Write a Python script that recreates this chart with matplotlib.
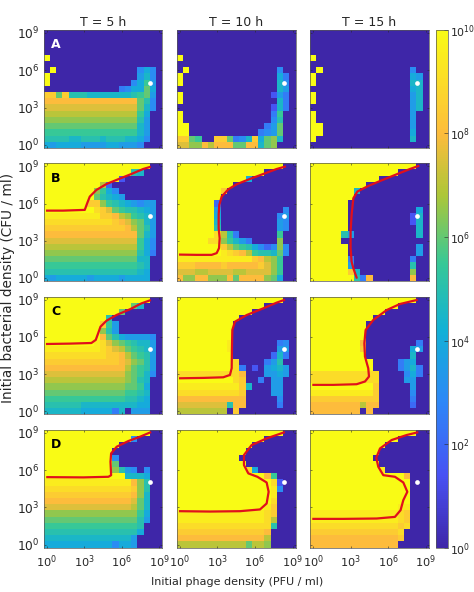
import numpy as np
import matplotlib
matplotlib.use("Agg")
import matplotlib.pyplot as plt
from matplotlib.colors import LinearSegmentedColormap, LogNorm

# cell values: one char per cell, int(c, 36) / 2 = log10(density), rows from 10^9 down to 10^0
Z = "0" * 19
A_5 = [Z, Z, Z, Z, "k" + "0" * 18, Z,
       "0k" + "0" * 13 + "6860", "k" + "0" * 14 + "7960", "k" + "0" * 13 + "68b70",
       "0" * 12 + "5688c80", "hhchaaa9999999abc70", "g" * 15 + "ca60", "f" * 15 + "c960",
       "e" * 15 + "b800", "d" * 15 + "a700", "c" * 15 + "9700", "b" * 15 + "9700",
       "aaaa99aaa9aaa99" + "8600", "878888777788777" + "6000"]
A_10 = [Z, Z, Z, Z, "k" + "0" * 18, Z,
        "0k" + "0" * 14 + "600", "k" + "0" * 15 + "850", "k" + "0" * 15 + "960",
        "0" * 16 + "970", "k" + "0" * 14 + "3750", "k" + "0" * 15 + "950",
        "0" * 15 + "3950", "k" + "0" * 14 + "5b00", "k" + "0" * 14 + "6a00",
        "kk" + "0" * 12 + "57c00", "kk" + "0" * 11 + "567c00",
        "hhcb00hhc569h8cd900", "ffddgegggccgg9cd000"]
A_15 = [Z, Z, Z, Z, "k" + "0" * 18, Z,
        "0k" + "0" * 14 + "600", "k" + "0" * 15 + "870", "k" + "0" * 15 + "990",
        "0" * 16 + "890", "k" + "0" * 15 + "790", "k" + "0" * 15 + "790",
        "0" * 16 + "790", "k" + "0" * 15 + "700", "k" + "0" * 15 + "700",
        "kk" + "0" * 14 + "700", "kk" + "0" * 14 + "800", "k" + "0" * 15 + "900", Z]

B_5 = ["k" * 17 + "00", "k" * 14 + "a9000", "k" * 12 + "3" + "0" * 6, "k" * 9 + "e4" + "0" * 8,
       "k" * 8 + "db86" + "0" * 7, "k" * 8 + "ca987" + "0" * 6, "k" * 7 + "hhdba9876770",
       "k" * 8 + "ihfcbaa9870", "j" * 9 + "hhgedba970", "i" * 11 + "hgfdc970",
       "h" * 13 + "geca70", "g" * 15 + "c970", "f" * 15 + "b860", "e" * 15 + "b860",
       "d" * 15 + "a850", "c" * 15 + "9900", "b" * 15 + "a900", "a" * 15 + "9800",
       "878888878888788" + "8800"]
B_10 = ["k" * 17 + "00", "k" * 14 + "0" * 5, "k" * 11 + "8" + "0" * 7, "k" * 9 + "0" * 10,
        "k" * 7 + "h" + "0" * 11, "k" * 7 + "0" * 12, "k" * 6 + "4" + "0" * 12,
        "k" * 6 + "7" + "0" * 10 + "60", "k" * 6 + "8" + "0" * 9 + "670",
        "k" * 6 + "9" + "0" * 9 + "760", "k" * 6 + "a" + "0" * 9 + "760",
        "k" * 6 + "iea5" + "0" * 6 + "b00", "k" * 5 + "iidb9750000d00",
        "k" * 7 + "hecba8646d60", "k" * 7 + "jihgebaa9c60", "j" * 12 + "hgedb00",
        "hhhgggghggggghfdb00", "fffeeffffeeffffdb00", "gddggdddgcggggdc800"]
B_15 = ["k" * 17 + "00", "k" * 14 + "0" * 5, "k" * 11 + "0" * 8, "k" * 9 + "0" * 10,
        "k" * 7 + "9" + "0" * 11, "k" * 7 + "0" * 12, "k" * 6 + "0" * 13,
        "k" * 6 + "0" * 11 + "80", "k" * 6 + "0" * 10 + "390", "k" * 6 + "0" * 10 + "390",
        "k" * 6 + "0" * 11 + "90", "k" * 5 + "a7" + "0" * 10 + "90", "k" * 5 + "0" * 14,
        "k" * 6 + "0" * 11 + "70", "k" * 6 + "0" * 11 + "70",
        "k" * 6 + "5" + "0" * 9 + "500", "k" * 6 + "7" + "0" * 9 + "a00",
        "k" * 6 + "h9" + "0" * 8 + "d00", "k" * 7 + "a5g" + "0" * 6 + "g00"]

C_5 = ["k" * 17 + "00", "k" * 14 + "c9000", "k" * 12 + "c" + "0" * 6, "k" * 10 + "a" + "0" * 8,
       "k" * 9 + "hb7" + "0" * 7, "k" * 9 + "da7" + "0" * 7, "k" * 9 + "gca8777760",
       "k" * 8 + "jifdcba9970", "j" * 9 + "ihfecba970", "i" * 10 + "hhgecba70",
       "h" * 11 + "hgfdca70", "g" * 13 + "ecba70", "f" * 13 + "dcb960", "e" * 13 + "dca900",
       "d" * 13 + "ccb800", "c" * 13 + "bba900", "b" * 13 + "aa9800",
       "a" * 6 + "9" * 7 + "998800", "9999998888859077700"]
C_10 = ["k" * 17 + "00", "k" * 14 + "0" * 5, "k" * 12 + "0" * 7, "k" * 10 + "0" * 9,
        "k" * 9 + "0" * 10, "k" * 9 + "0" * 10, "k" * 9 + "0" * 10,
        "k" * 8 + "j" + "0" * 7 + "560", "k" * 8 + "j" + "0" * 7 + "770",
        "k" * 9 + "0" * 6 + "4950", "k" * 9 + "i" + "0000" + "57a00",
        "k" * 9 + "i" + "5030" + "78970", "i" * 10 + "g" + "000" + "77870",
        "k" * 9 + "ih" + "00507700", "j" * 10 + "h9" + "000" + "7700",
        "i" * 10 + "h" + "0000" + "7700", "g" * 11 + "0" * 5 + "600",
        "f" * 8 + "agg" + "0" * 5 + "500", "e" * 8 + "0h0" + "0" * 8]
C_15 = ["k" * 17 + "00", "k" * 14 + "0" * 5, "k" * 12 + "0" * 7, "k" * 10 + "0" * 9,
        "k" * 9 + "0" * 10, "k" * 9 + "0" * 10, "k" * 9 + "0" * 10,
        "k" * 8 + "g" + "0" * 8 + "50", "k" * 8 + "h" + "0" * 7 + "870",
        "k" * 9 + "0" * 7 + "900", "k" * 10 + "0000" + "57800", "k" * 10 + "0000" + "57950",
        "i" * 11 + "0000" + "6850", "i" * 11 + "0000" + "7700", "k" * 10 + "h" + "0" * 5 + "700",
        "j" * 10 + "h" + "0" * 5 + "600", "h" * 11 + "0" * 5 + "500",
        "g" * 8 + "egg" + "0" * 5 + "400", "g" * 8 + "0g0" + "0" * 8]

D_5 = ["k" * 17 + "00", "k" * 14 + "60000", "k" * 12 + "0" * 7, "k" * 11 + "0" * 8,
       "k" * 11 + "6" + "0" * 7, "k" * 11 + "c" + "0" * 7, "k" * 11 + "da76060" + "0",
       "k" * 13 + "999800", "j" * 14 + "gda00", "i" * 14 + "hda00", "h" * 14 + "gd900",
       "g" * 14 + "fc900", "f" * 14 + "ec900", "d" * 15 + "b800", "c" * 15 + "a700",
       "b" * 15 + "a000", "a" * 15 + "8000", "9" * 14 + "70000", "8" * 11 + "6887" + "0000"]
D_10 = ["k" * 17 + "00", "k" * 14 + "0" * 5, "k" * 12 + "0" * 7, "k" * 11 + "0" * 8,
        "k" * 10 + "0" * 9, "k" * 11 + "0" * 8, "k" * 11 + "i8" + "0" * 6,
        "k" * 14 + "gb000", "k" * 15 + "i300", "k" * 15 + "j600", "k" * 15 + "j000",
        "k" * 15 + "i000", "k" * 14 + "jh000", "j" * 14 + "ih000", "j" * 14 + "ie000",
        "i" * 14 + "ia000", "h" * 14 + "g0000", "g" * 14 + "e0000", "e" * 11 + "ceed0000"]
D_15 = ["k" * 17 + "00", "k" * 14 + "0" * 5, "k" * 12 + "0" * 7, "k" * 11 + "0" * 8,
        "k" * 10 + "0" * 9, "k" * 11 + "0" * 8, "k" * 11 + "j" + "0" * 7,
        "k" * 15 + "g000", "k" * 16 + "000", "k" * 16 + "000", "k" * 16 + "000", "k" * 16 + "000",
        "k" * 14 + "jj000", "j" * 14 + "ih000", "j" * 14 + "ih000", "i" * 14 + "hi000",
        "h" * 14 + "i0000", "g" * 14 + "h0000", "g" * 14 + "0" * 5]

# red curves, log10(phage), log10(bacteria)
Bx_5 = [0.02, 1.3, 3.04, 3.23, 3.44, 3.97, 4.78, 5.71, 6.78, 7.72, 8.25]
By_5 = [5.43, 5.43, 5.49, 6.02, 6.56, 7.1, 7.58, 7.96, 8.39, 8.79, 8.95]
Bx_10 = [0.02, 1.35, 2.54, 2.94, 3.13, 3.18, 3.1, 3.1, 3.15, 3.34, 3.87, 4.54, 5.6, 6.8, 7.73, 8.39]
By_10 = [1.88, 1.86, 1.86, 2.0, 2.4, 3.2, 4.0, 5.08, 5.89, 6.56, 7.15, 7.56, 7.99, 8.44, 8.79, 8.98]
Bx_15 = [3.47, 3.21, 3.07, 2.99, 2.99, 3.07, 3.21, 3.53, 4.4, 5.34, 6.66, 7.73, 8.39]
By_15 = [0.03, 0.78, 1.32, 2.4, 3.74, 5.08, 6.43, 6.97, 7.42, 7.82, 8.36, 8.79, 9.03]
Cx_5 = [0.02, 1.84, 3.57, 3.92, 4.11, 4.3, 4.78, 5.58, 6.65, 7.58, 8.25]
Cy_5 = [5.43, 5.46, 5.51, 5.76, 6.29, 6.83, 7.31, 7.77, 8.23, 8.71, 8.95]
Cx_10 = [0.02, 1.88, 3.47, 4.0, 4.14, 4.16, 4.19, 4.4, 5.34, 6.66, 7.73, 8.31]
Cy_10 = [2.66, 2.69, 2.74, 2.93, 3.47, 4.95, 6.56, 7.23, 7.77, 8.31, 8.77, 8.98]
Cx_15 = [0.02, 1.61, 3.47, 4.14, 4.46, 4.4, 4.14, 4.09, 4.19, 4.8, 5.87, 6.93, 8.26]
Cy_15 = [2.13, 2.13, 2.18, 2.4, 2.8, 3.47, 4.41, 5.49, 6.56, 7.37, 8.17, 8.66, 8.98]
Dx_5 = [0.04, 2.93, 4.94, 5.15, 5.1, 5.15, 5.6, 6.54, 7.48, 8.28]
Dy_5 = [5.43, 5.41, 5.46, 5.59, 6.67, 7.34, 7.88, 8.34, 8.69, 9.03]
Dx_10 = [0.02, 2.41, 4.8, 6.4, 6.93, 7.09, 6.93, 6.19, 5.47, 5.12, 5.12, 5.73, 6.93, 8.31]
Dy_10 = [2.69, 2.66, 2.69, 2.83, 3.31, 4.25, 5.0, 5.46, 5.73, 6.4, 7.21, 8.01, 8.55, 9.03]
Dx_15 = [0.02, 2.41, 5.07, 6.53, 6.98, 7.2, 7.52, 7.2, 6.53, 5.6, 5.2, 5.04, 5.34, 6.27, 7.46, 8.31]
Dy_15 = [2.07, 2.07, 2.1, 2.23, 2.77, 3.58, 4.25, 5.0, 5.46, 5.59, 6.27, 6.99, 7.74, 8.42, 8.82, 9.03]

dot_x = 8.3
dot_y = 5.0
times = ["T = 5 h", "T = 10 h", "T = 15 h"]
letters = ["A", "B", "C", "D"]
letter_colors = ["white", "black", "black", "black"]
grids = [[A_5, A_10, A_15], [B_5, B_10, B_15], [C_5, C_10, C_15], [D_5, D_10, D_15]]
curves = [[None, None, None],
          [(Bx_5, By_5), (Bx_10, By_10), (Bx_15, By_15)],
          [(Cx_5, Cy_5), (Cx_10, Cy_10), (Cx_15, Cy_15)],
          [(Dx_5, Dy_5), (Dx_10, Dy_10), (Dx_15, Dy_15)]]

parula = [(0.0, "#3e26a8"), (0.14, "#4852f4"), (0.28, "#2d87f7"), (0.42, "#12b1d6"),
          (0.55, "#37c897"), (0.68, "#abc739"), (0.8, "#fdbc3c"), (1.0, "#f9fb15")]

W = 474.0
H = 592.0
col_x = [(43.7, 162.3), (176.7, 295.7), (310.0, 429.0)]
row_y = [(29.7, 148.0), (163.3, 281.0), (296.7, 414.3), (429.7, 547.7)]
text_c = "#262626"

plt.rcParams['font.family'] = 'DejaVu Sans'
fig = plt.figure(figsize=(W / 100, H / 100), dpi=100)
cmap = LinearSegmentedColormap.from_list("parula", parula, N=256)
norm = LogNorm(vmin=1, vmax=1e10)
edges = 10 ** (np.arange(20) * 0.5 - 0.25)
ticks = [1, 1e3, 1e6, 1e9]

for i in range(4):
    for j in range(3):
        x0, x1 = col_x[j]
        y0, y1 = row_y[i]
        ax = fig.add_axes([x0 / W, 1 - y1 / H, (x1 - x0) / W, (y1 - y0) / H])
        rows = grids[i][j]
        vals = np.array([[int(c, 36) / 2 for c in r] for r in rows])[::-1]
        mesh = ax.pcolormesh(edges, edges, 10 ** vals, cmap=cmap, norm=norm, linewidth=0, rasterized=True)
        ax.set_xscale("log")
        ax.set_yscale("log")
        ax.set_xlim(edges[0], edges[-1])
        ax.set_ylim(edges[0], edges[-1])
        ax.set_xticks(ticks)
        ax.set_yticks(ticks)
        ax.minorticks_off()
        ax.tick_params(direction="in", length=1.5, width=0.4, colors=text_c,
                       labelbottom=(i == 3), labelleft=(j == 0), top=True, right=True)
        ax.tick_params(axis="x", pad=4, labelsize=8.2)
        ax.tick_params(axis="y", pad=3, labelsize=8.8)
        for s in ax.spines.values():
            s.set_linewidth(0.5)
            s.set_color("#555555")
        if curves[i][j] is not None:
            cx, cy = curves[i][j]
            ax.plot(10 ** np.array(cx), 10 ** np.array(cy), color="#e0101c", lw=1.6, solid_joinstyle="round")
        ax.plot([10 ** dot_x], [10 ** dot_y], "o", color="white", ms=3.4, mew=0)
        if i == 0:
            ax.set_title(times[j], fontsize=9, color=text_c, pad=3)
        if j == 0:
            ax.text(0.10, 0.873, letters[i], transform=ax.transAxes, color=letter_colors[i],
                    fontsize=9, fontweight="bold", ha="center", va="center")

cax = fig.add_axes([436.3 / W, 1 - 548.0 / H, 11.4 / W, (548.0 - 29.7) / H])
cb = fig.colorbar(mesh, cax=cax)
cb.set_ticks([1, 1e2, 1e4, 1e6, 1e8, 1e10])
cb.ax.minorticks_off()
cb.ax.tick_params(direction="in", length=3, width=0.4, labelsize=7.8, colors=text_c, pad=1.5)
cb.outline.set_linewidth(0.5)
cb.outline.set_edgecolor("#555555")

fig.text(237 / W, 1 - 582 / H, "Initial phage density (PFU / ml)", fontsize=8, color=text_c, ha="center", va="center")
fig.text(8 / W, 1 - 288 / H, "Initial bacterial density (CFU / ml)", fontsize=9.8, color=text_c,
         rotation=90, ha="center", va="center")

fig.savefig("out.png", dpi=100)
